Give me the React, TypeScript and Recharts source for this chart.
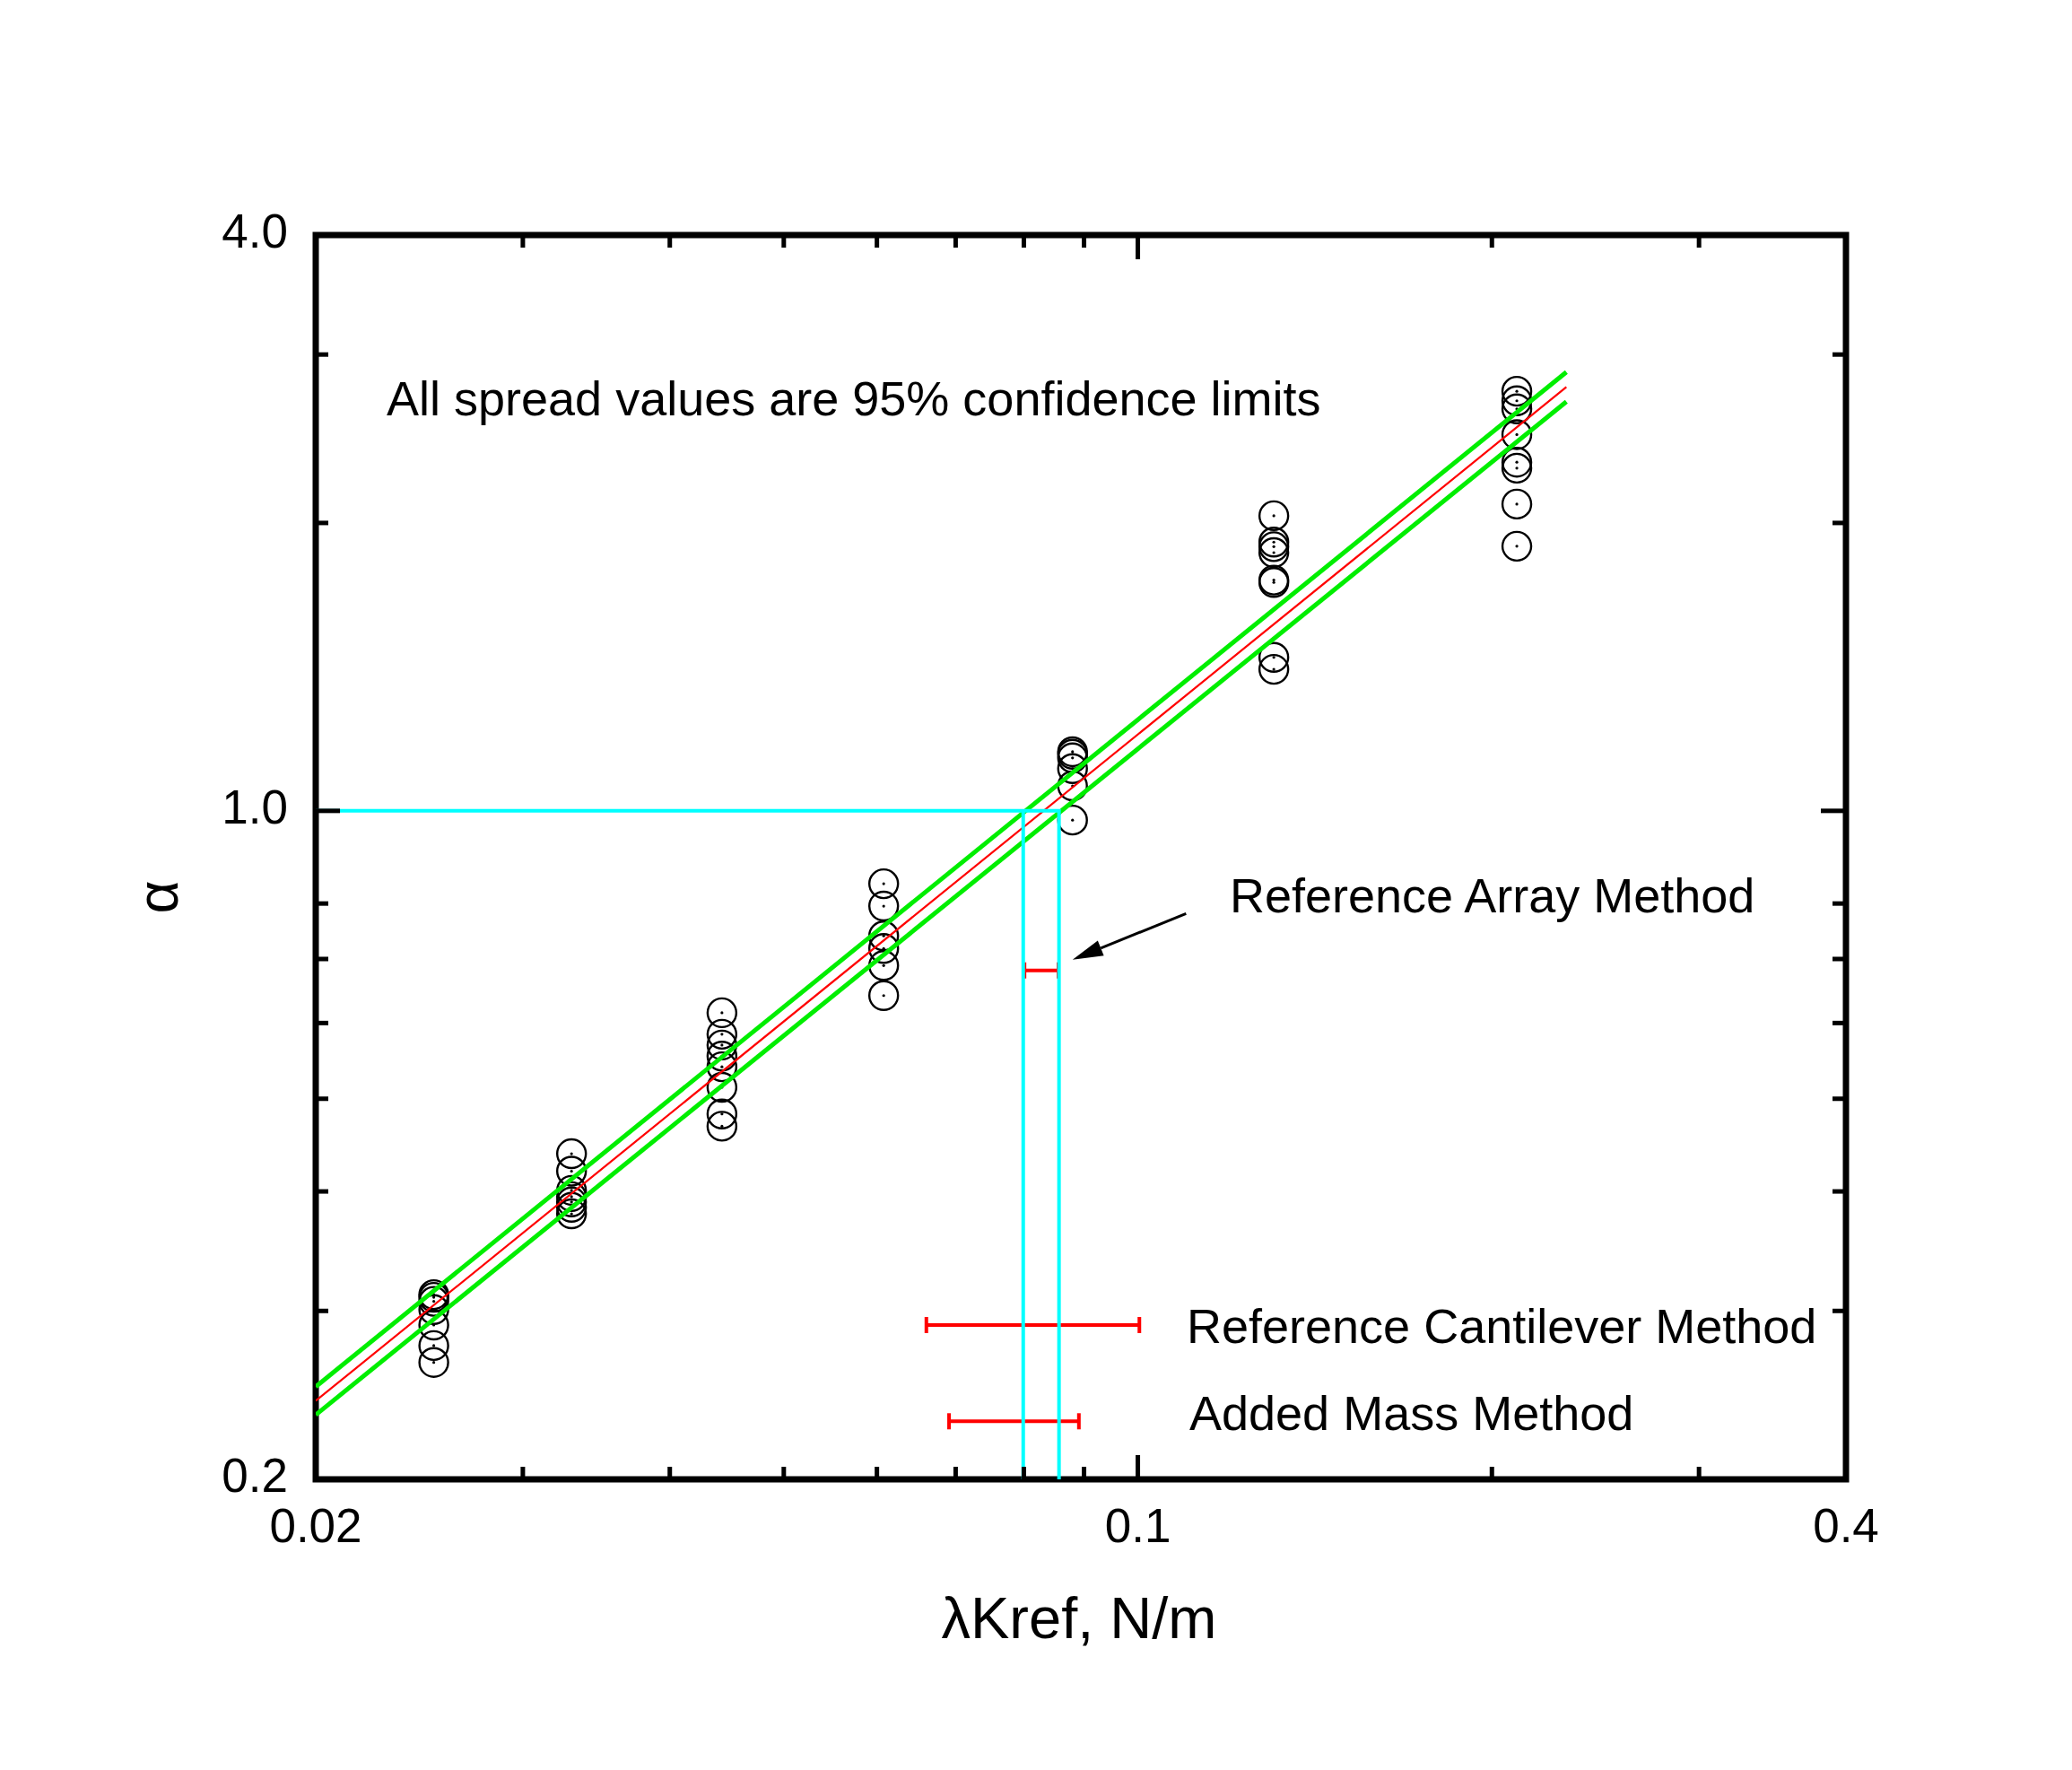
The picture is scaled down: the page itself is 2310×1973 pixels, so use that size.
import React from 'react';
import { ScatterChart, Scatter, XAxis, YAxis, ReferenceArea, ReferenceLine, ErrorBar } from 'recharts';

// ---------- data ----------
const xTicks = [0.02, 0.03, 0.04, 0.05, 0.06, 0.07, 0.08, 0.09, 0.1, 0.2, 0.3, 0.4];
const xTickLabels = ['0.02', '', '', '', '', '', '', '', '0.1', '', '', '0.4'];
const xMajorTicks = [0.1];
const yTicks = [0.2, 0.3, 0.4, 0.5, 0.6, 0.7, 0.8, 1.0, 2, 3, 4];
const yTickLabels = ['0.2', '', '', '', '', '', '', '1.0', '', '', '4.0'];
const yMajorTicks = [1.0];

const groupX = [0.0252, 0.033, 0.0443, 0.0608, 0.088, 0.1305, 0.21];
const groupAlpha = [
  [0.312, 0.31, 0.307, 0.301, 0.29, 0.276, 0.265],
  [0.438, 0.42, 0.401, 0.395, 0.39, 0.385, 0.379],
  [0.615, 0.584, 0.569, 0.554, 0.54, 0.514, 0.482, 0.468],
  [0.839, 0.795, 0.74, 0.718, 0.689, 0.641],
  [1.153, 1.146, 1.136, 1.107, 1.062, 0.978],
  [2.035, 1.91, 1.889, 1.862, 1.743, 1.733, 1.447, 1.406],
  [2.746, 2.684, 2.632, 2.474, 2.315, 2.282, 2.093, 1.891],
];

const fitX = [0.02, 0.2314];
const fitMid = [0.2416, 2.774];
const fitUpper = [0.25, 2.876];
const fitLower = [0.2336, 2.678];

const cyanLevel = 1.0;
const cyanLeftX = 0.0799;
const cyanRightX = 0.0857;

const methodNames = ['Reference Array Method', 'Reference Cantilever Method', 'Added Mass Method'];
const methodAlpha = [0.681, 0.29, 0.23];
const methodLow = [0.0801, 0.0661, 0.0691];
const methodHigh = [0.0856, 0.1003, 0.0891];

const noteText = 'All spread values are 95% confidence limits';
const xAxisTitle = 'λKref, N/m';
const yAxisTitle = 'α';

const arrowTail = { x: 0.1099, y: 0.781 };
const arrowTip = { x: 0.088, y: 0.699 };

// ---------- layout ----------
const W = 2310;
const H = 1973;
const M = { top: 262, right: 252, bottom: 323, left: 351 };
const PT = 262;
const PB = 1649;
const PL = 352;
const PR = 2057;
const FONT = "'Liberation Sans', Arial, sans-serif";

const points = groupX.flatMap((x, i) => groupAlpha[i].map((y) => ({ x, y })));
const lineOf = (ys: number[]) => fitX.map((x, i) => ({ x, y: ys[i] }));
const cyanA = [
  { x: 0.02, y: cyanLevel },
  { x: cyanRightX, y: cyanLevel },
  { x: cyanRightX, y: 0.2 },
];
const cyanB = [
  { x: cyanLeftX, y: cyanLevel },
  { x: cyanLeftX, y: 0.2 },
];
const methods = methodNames.map((name, i) => {
  const c = (methodLow[i] + methodHigh[i]) / 2;
  return { name, x: c, y: methodAlpha[i], err: [c - methodLow[i], methodHigh[i] - c] };
});

const None = () => <g />;

const Circle = (p: any) => (
  <g>
    <circle cx={p.cx} cy={p.cy} r={16} fill="none" stroke="#000" strokeWidth={2.4} />
    <circle cx={p.cx} cy={p.cy} r={1.6} fill="#000" />
  </g>
);

const renderXTick = (p: any) => {
  const v = p.payload.value;
  const i = xTicks.findIndex((t) => Math.abs(t - v) < 1e-9);
  const label = i >= 0 ? xTickLabels[i] : '';
  const edge = i === 0 || i === xTicks.length - 1;
  const len = xMajorTicks.some((t) => Math.abs(t - v) < 1e-9) ? 27 : 14;
  const x = p.x;
  return (
    <g key={`xt-${v}`}>
      {!edge && <line x1={x} x2={x} y1={PB} y2={PB - len} stroke="#000" strokeWidth={5} />}
      {!edge && <line x1={x} x2={x} y1={PT} y2={PT + len} stroke="#000" strokeWidth={5} />}
      {label && (
        <text x={x} y={PB + 70} textAnchor="middle" fontSize={53} fontFamily={FONT} fill="#000">
          {label}
        </text>
      )}
    </g>
  );
};

const renderYTick = (p: any) => {
  const v = p.payload.value;
  const i = yTicks.findIndex((t) => Math.abs(t - v) < 1e-9);
  const label = i >= 0 ? yTickLabels[i] : '';
  const edge = i === 0 || i === yTicks.length - 1;
  const len = yMajorTicks.some((t) => Math.abs(t - v) < 1e-9) ? 27 : 14;
  const y = p.y;
  return (
    <g key={`yt-${v}`}>
      {!edge && <line x1={PL} x2={PL + len} y1={y} y2={y} stroke="#000" strokeWidth={5} />}
      {!edge && <line x1={PR} x2={PR - len} y1={y} y2={y} stroke="#000" strokeWidth={5} />}
      {label && (
        <text x={PL - 31} y={y + 14} textAnchor="end" fontSize={53} fontFamily={FONT} fill="#000">
          {label}
        </text>
      )}
    </g>
  );
};

const Arrow = (p: any) => {
  const { x1, y1, x2, y2 } = p;
  const dx = x2 - x1;
  const dy = y2 - y1;
  const L = Math.sqrt(dx * dx + dy * dy) || 1;
  const ux = dx / L;
  const uy = dy / L;
  const hl = 34;
  const hw = 9;
  const bx = x2 - ux * hl;
  const by = y2 - uy * hl;
  return (
    <g>
      <line x1={x1} y1={y1} x2={bx} y2={by} stroke="#000" strokeWidth={3} />
      <polygon
        points={`${x2},${y2} ${bx - uy * hw},${by + ux * hw} ${bx + uy * hw},${by - ux * hw}`}
        fill="#000"
      />
    </g>
  );
};

export default function App() {
  return (
    <div style={{ position: 'absolute', left: 0, top: 0, width: W, height: H, background: '#fff' }}>
      <ScatterChart width={W} height={H} margin={M}>
        <XAxis
          type="number"
          dataKey="x"
          scale="log"
          domain={[0.02, 0.4]}
          allowDataOverflow
          ticks={xTicks}
          interval={0}
          height={1}
          tickSize={1}
          tickMargin={0}
          axisLine={false}
          tickLine={false}
          tick={renderXTick}
        />
        <YAxis
          type="number"
          dataKey="y"
          scale="log"
          domain={[0.2, 4]}
          allowDataOverflow
          ticks={yTicks}
          interval={0}
          width={1}
          tickSize={1}
          tickMargin={0}
          axisLine={false}
          tickLine={false}
          tick={renderYTick}
        />
        <Scatter data={points} shape={<Circle />} isAnimationActive={false} />
        <Scatter data={lineOf(fitUpper)} line={{ stroke: '#00ee00', strokeWidth: 5 }} shape={<None />} isAnimationActive={false} />
        <Scatter data={lineOf(fitLower)} line={{ stroke: '#00ee00', strokeWidth: 5 }} shape={<None />} isAnimationActive={false} />
        <Scatter data={lineOf(fitMid)} line={{ stroke: '#ff0000', strokeWidth: 2.2 }} shape={<None />} isAnimationActive={false} />
        <Scatter data={cyanA} line={{ stroke: '#00ffff', strokeWidth: 4 }} shape={<None />} isAnimationActive={false} />
        <Scatter data={cyanB} line={{ stroke: '#00ffff', strokeWidth: 4 }} shape={<None />} isAnimationActive={false} />
        <Scatter data={methods} shape={<None />} isAnimationActive={false}>
          <ErrorBar dataKey="err" direction="x" width={9} stroke="#ff0000" strokeWidth={4} isAnimationActive={false} />
        </Scatter>
        <ReferenceLine
          segment={[arrowTail, arrowTip]}
          stroke="#000"
          strokeWidth={3}
          ifOverflow="visible"
          shape={(p: any) => <Arrow {...p} />}
        />
        <ReferenceArea x1={0.02} x2={0.4} y1={0.2} y2={4} fill="none" fillOpacity={0} stroke="#000" strokeWidth={7} ifOverflow="visible" />
      </ScatterChart>
      <svg
        width={W}
        height={H}
        style={{ position: 'absolute', left: 0, top: 0, pointerEvents: 'none' }}
        fontFamily={FONT}
      >
        <text x={431} y={463} fontSize={54} fill="#000">{noteText}</text>
        <text x={1371} y={1017} fontSize={54} fill="#000">{methodNames[0]}</text>
        <text x={1323} y={1497} fontSize={54} fill="#000">{methodNames[1]}</text>
        <text x={1326} y={1594} fontSize={54} fill="#000">{methodNames[2]}</text>
        <text x={1203} y={1826} fontSize={65} textAnchor="middle" fill="#000">{xAxisTitle}</text>
        <text x={198} y={1000} fontSize={64} textAnchor="middle" fill="#000" transform="rotate(-90 198 1000)">
          {yAxisTitle}
        </text>
      </svg>
    </div>
  );
}
